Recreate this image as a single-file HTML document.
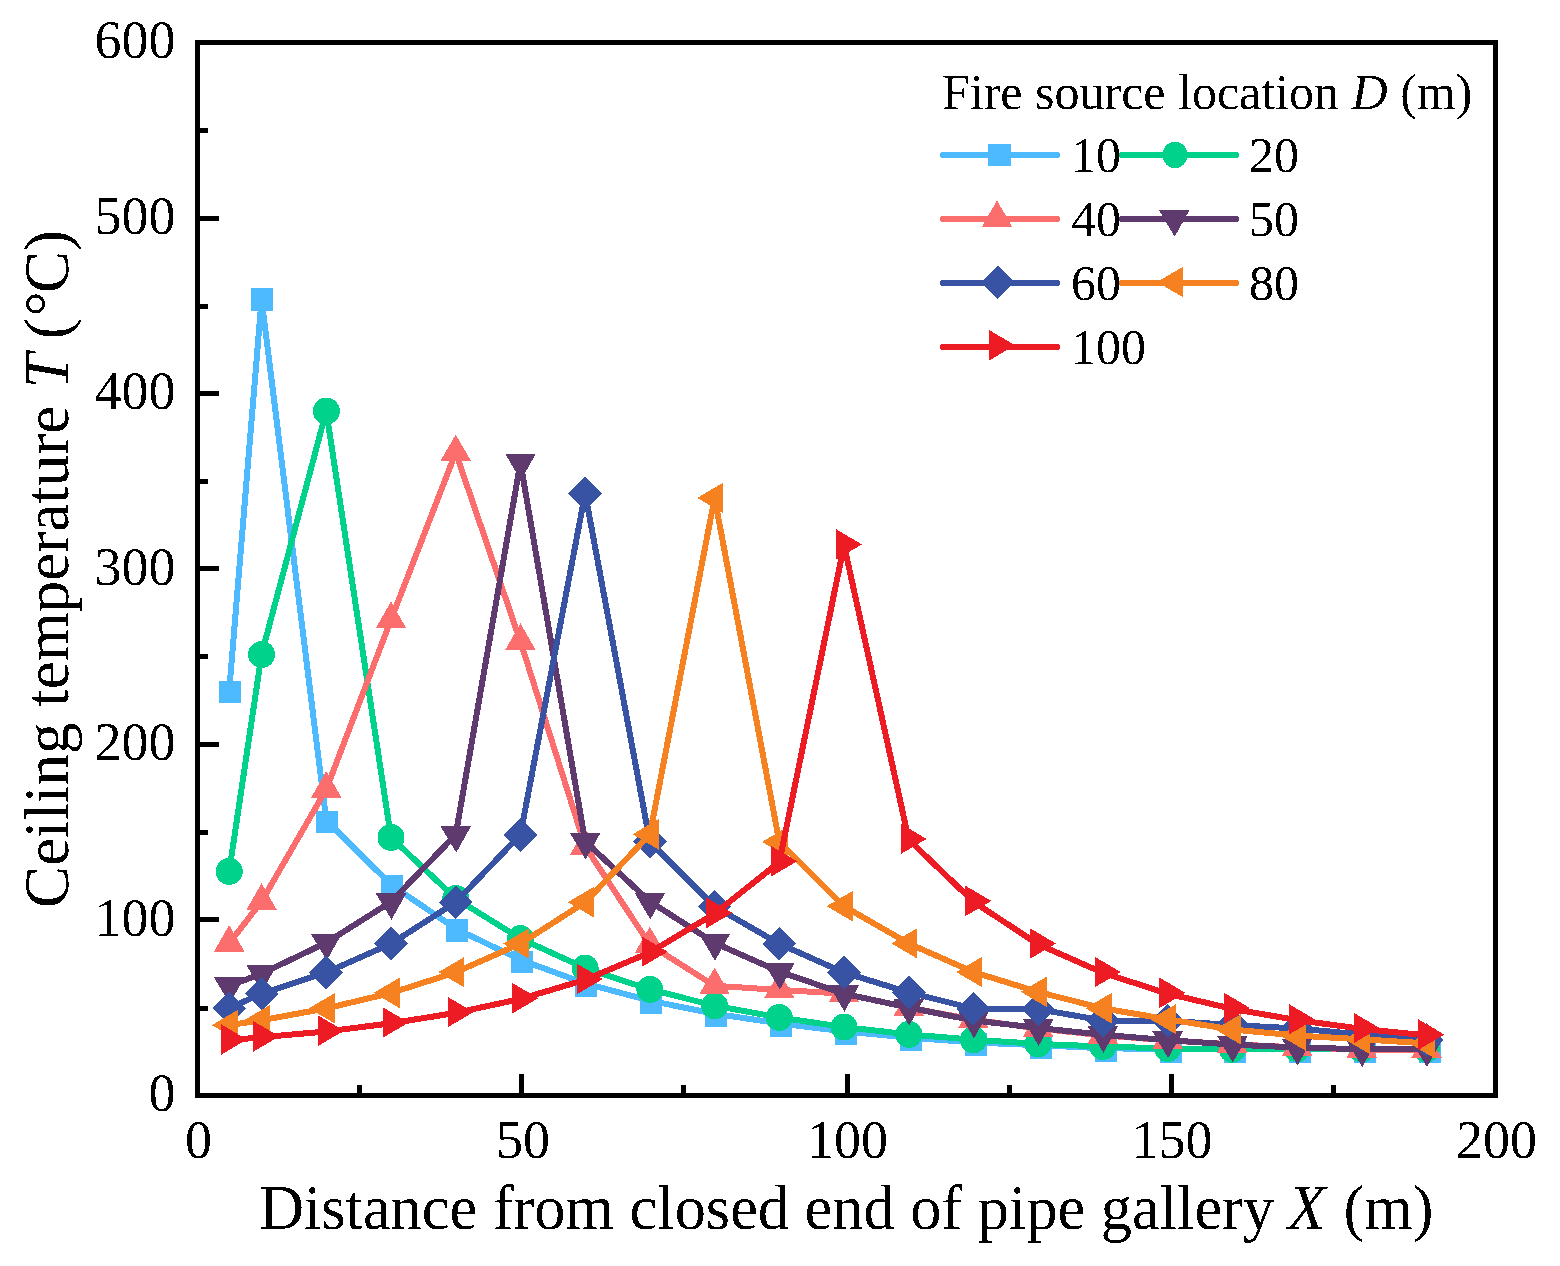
<!DOCTYPE html>
<html lang="en"><head><meta charset="utf-8"><title>Ceiling temperature vs distance</title>
<style>html,body{margin:0;padding:0;background:#fff;overflow:hidden}svg{display:block}text{font-family:"Liberation Serif",serif;fill:#000}.tk{font-size:54px}.ax{font-size:63px}.axx{font-size:62.4px}.lg{font-size:50px}.i{font-style:italic}</style></head><body>
<svg width="1560" height="1266" viewBox="0 0 1560 1266">
<rect x="0" y="0" width="1560" height="1266" fill="#fff"/>
<defs><filter id="bw" x="-5%" y="-5%" width="110%" height="110%" color-interpolation-filters="sRGB"><feComponentTransfer><feFuncA type="discrete" tableValues="0 1"/></feComponentTransfer></filter></defs>
<g shape-rendering="crispEdges"><polyline points="229.21,690.66 261.57,299.36 326.28,820.45 391,884.62 455.72,928.69 520.44,959.81 585.16,983.44 649.87,1000.69 714.59,1013.71 779.31,1023.38 844.03,1031.41 908.75,1037.54 973.47,1042.47 1038.18,1045.22 1102.9,1048.26 1167.62,1049.06 1232.34,1049.06 1297.06,1049.26 1361.78,1049.46 1426.49,1049.46" stroke="#4DB9FF" stroke-width="6.0" fill="none" stroke-linejoin="round" stroke-linecap="round"/>
<rect x="218.5" y="680.65" width="22" height="22.5" fill="#4DB9FF"/><rect x="250.95" y="288.25" width="22" height="22.5" fill="#4DB9FF"/><rect x="315.85" y="810.8" width="22" height="22.5" fill="#4DB9FF"/><rect x="380.75" y="875.15" width="22" height="22.5" fill="#4DB9FF"/><rect x="445.65" y="919.35" width="22" height="22.5" fill="#4DB9FF"/><rect x="510.55" y="950.55" width="22" height="22.5" fill="#4DB9FF"/><rect x="575.45" y="974.25" width="22" height="22.5" fill="#4DB9FF"/><rect x="640.35" y="991.55" width="22" height="22.5" fill="#4DB9FF"/><rect x="705.25" y="1004.6" width="22" height="22.5" fill="#4DB9FF"/><rect x="770.15" y="1014.3" width="22" height="22.5" fill="#4DB9FF"/><rect x="835.05" y="1022.35" width="22" height="22.5" fill="#4DB9FF"/><rect x="899.95" y="1028.5" width="22" height="22.5" fill="#4DB9FF"/><rect x="964.85" y="1033.45" width="22" height="22.5" fill="#4DB9FF"/><rect x="1029.75" y="1036.2" width="22" height="22.5" fill="#4DB9FF"/><rect x="1094.65" y="1039.25" width="22" height="22.5" fill="#4DB9FF"/><rect x="1159.55" y="1040.05" width="22" height="22.5" fill="#4DB9FF"/><rect x="1224.45" y="1040.05" width="22" height="22.5" fill="#4DB9FF"/><rect x="1289.35" y="1040.25" width="22" height="22.5" fill="#4DB9FF"/><rect x="1354.25" y="1040.45" width="22" height="22.5" fill="#4DB9FF"/><rect x="1419.15" y="1040.45" width="22" height="22.5" fill="#4DB9FF"/></g>
<g shape-rendering="crispEdges"><polyline points="229.21,871.36 261.57,654.5 326.28,411.1 391,837.46 455.72,898.5 520.44,938.6 585.16,968.1 649.87,989.4 714.59,1005.65 779.31,1017.5 844.03,1027 908.75,1034.4 973.47,1039.7 1038.18,1043.9 1102.9,1046.5 1167.62,1048.5 1232.34,1049.3 1297.06,1048.8 1361.78,1049 1426.49,1049" stroke="#00D18B" stroke-width="6.0" fill="none" stroke-linejoin="round" stroke-linecap="round"/>
<circle cx="229.21" cy="871.36" r="13.5" fill="#00D18B"/><circle cx="261.57" cy="654.5" r="13.5" fill="#00D18B"/><circle cx="326.28" cy="411.1" r="13.5" fill="#00D18B"/><circle cx="391" cy="837.46" r="13.5" fill="#00D18B"/><circle cx="455.72" cy="898.5" r="13.5" fill="#00D18B"/><circle cx="520.44" cy="938.6" r="13.5" fill="#00D18B"/><circle cx="585.16" cy="968.1" r="13.5" fill="#00D18B"/><circle cx="649.87" cy="989.4" r="13.5" fill="#00D18B"/><circle cx="714.59" cy="1005.65" r="13.5" fill="#00D18B"/><circle cx="779.31" cy="1017.5" r="13.5" fill="#00D18B"/><circle cx="844.03" cy="1027" r="13.5" fill="#00D18B"/><circle cx="908.75" cy="1034.4" r="13.5" fill="#00D18B"/><circle cx="973.47" cy="1039.7" r="13.5" fill="#00D18B"/><circle cx="1038.18" cy="1043.9" r="13.5" fill="#00D18B"/><circle cx="1102.9" cy="1046.5" r="13.5" fill="#00D18B"/><circle cx="1167.62" cy="1048.5" r="13.5" fill="#00D18B"/><circle cx="1232.34" cy="1049.3" r="13.5" fill="#00D18B"/><circle cx="1297.06" cy="1048.8" r="13.5" fill="#00D18B"/><circle cx="1361.78" cy="1049" r="13.5" fill="#00D18B"/><circle cx="1426.49" cy="1049" r="13.5" fill="#00D18B"/></g>
<g shape-rendering="crispEdges"><polyline points="229.21,943.2 261.57,901.5 326.28,789.3 391,619.77 455.72,452.6 520.44,641.5 585.16,846.4 649.87,944.8 714.59,985.8 779.31,989.9 844.03,993.7 908.75,1007.6 973.47,1019.6 1038.18,1028.55 1102.9,1035.3 1167.62,1040.4 1232.34,1044.3 1297.06,1047.4 1361.78,1049.5 1426.49,1049.5" stroke="#FC6D6D" stroke-width="6.0" fill="none" stroke-linejoin="round" stroke-linecap="round"/>
<polygon points="229.21,925.07 213.91,951.67 244.51,951.67" fill="#FC6D6D"/><polygon points="261.57,883.37 246.27,909.97 276.87,909.97" fill="#FC6D6D"/><polygon points="326.28,771.17 310.98,797.77 341.58,797.77" fill="#FC6D6D"/><polygon points="391,601.64 375.7,628.24 406.3,628.24" fill="#FC6D6D"/><polygon points="455.72,434.47 440.42,461.07 471.02,461.07" fill="#FC6D6D"/><polygon points="520.44,623.37 505.14,649.97 535.74,649.97" fill="#FC6D6D"/><polygon points="585.16,828.27 569.86,854.87 600.46,854.87" fill="#FC6D6D"/><polygon points="649.87,926.67 634.57,953.27 665.17,953.27" fill="#FC6D6D"/><polygon points="714.59,967.67 699.29,994.27 729.89,994.27" fill="#FC6D6D"/><polygon points="779.31,971.77 764.01,998.37 794.61,998.37" fill="#FC6D6D"/><polygon points="844.03,975.57 828.73,1002.17 859.33,1002.17" fill="#FC6D6D"/><polygon points="908.75,989.47 893.45,1016.07 924.05,1016.07" fill="#FC6D6D"/><polygon points="973.47,1001.47 958.17,1028.07 988.77,1028.07" fill="#FC6D6D"/><polygon points="1038.18,1010.42 1022.88,1037.02 1053.48,1037.02" fill="#FC6D6D"/><polygon points="1102.9,1017.17 1087.6,1043.77 1118.2,1043.77" fill="#FC6D6D"/><polygon points="1167.62,1022.27 1152.32,1048.87 1182.92,1048.87" fill="#FC6D6D"/><polygon points="1232.34,1026.17 1217.04,1052.77 1247.64,1052.77" fill="#FC6D6D"/><polygon points="1297.06,1029.27 1281.76,1055.87 1312.36,1055.87" fill="#FC6D6D"/><polygon points="1361.78,1031.37 1346.48,1057.97 1377.08,1057.97" fill="#FC6D6D"/><polygon points="1426.49,1031.37 1411.19,1057.97 1441.79,1057.97" fill="#FC6D6D"/></g>
<g shape-rendering="crispEdges"><polyline points="229.21,985.87 261.57,973.67 326.28,942.67 391,901.9 455.72,834.7 520.44,462.47 585.16,841.6 649.87,901.5 714.59,942.9 779.31,971.7 844.03,993.7 908.75,1007.6 973.47,1020.4 1038.18,1027.9 1102.9,1034.8 1167.62,1040.1 1232.34,1044.6 1297.06,1047.5 1361.78,1049.2 1426.49,1049.2" stroke="#5F3A6E" stroke-width="6.0" fill="none" stroke-linejoin="round" stroke-linecap="round"/>
<polygon points="229.71,1003.8 213.91,977.2 244.51,977.2" fill="#5F3A6E"/><polygon points="262.07,991.6 246.27,965 276.87,965" fill="#5F3A6E"/><polygon points="326.78,960.6 310.98,934 341.58,934" fill="#5F3A6E"/><polygon points="391.5,919.83 375.7,893.23 406.3,893.23" fill="#5F3A6E"/><polygon points="456.22,852.63 440.42,826.03 471.02,826.03" fill="#5F3A6E"/><polygon points="520.94,480.4 505.14,453.8 535.74,453.8" fill="#5F3A6E"/><polygon points="585.66,859.53 569.86,832.93 600.46,832.93" fill="#5F3A6E"/><polygon points="650.37,919.43 634.57,892.83 665.17,892.83" fill="#5F3A6E"/><polygon points="715.09,960.83 699.29,934.23 729.89,934.23" fill="#5F3A6E"/><polygon points="779.81,989.63 764.01,963.03 794.61,963.03" fill="#5F3A6E"/><polygon points="844.53,1011.63 828.73,985.03 859.33,985.03" fill="#5F3A6E"/><polygon points="909.25,1025.53 893.45,998.93 924.05,998.93" fill="#5F3A6E"/><polygon points="973.97,1038.33 958.17,1011.73 988.77,1011.73" fill="#5F3A6E"/><polygon points="1038.68,1045.83 1022.88,1019.23 1053.48,1019.23" fill="#5F3A6E"/><polygon points="1103.4,1052.73 1087.6,1026.13 1118.2,1026.13" fill="#5F3A6E"/><polygon points="1168.12,1058.03 1152.32,1031.43 1182.92,1031.43" fill="#5F3A6E"/><polygon points="1232.84,1062.53 1217.04,1035.93 1247.64,1035.93" fill="#5F3A6E"/><polygon points="1297.56,1065.43 1281.76,1038.83 1312.36,1038.83" fill="#5F3A6E"/><polygon points="1362.28,1067.13 1346.48,1040.53 1377.08,1040.53" fill="#5F3A6E"/><polygon points="1426.99,1067.13 1411.19,1040.53 1441.79,1040.53" fill="#5F3A6E"/></g>
<g shape-rendering="crispEdges"><polyline points="229.21,1008.2 261.57,993.6 326.28,972.45 391,943.8 455.72,902.25 520.44,834.7 585.16,493.46 649.87,841.6 714.59,906.5 779.31,943.8 844.03,972.6 908.75,992.4 973.47,1008.6 1038.18,1009.2 1102.9,1020.5 1167.62,1020.7 1232.34,1025 1297.06,1028.5 1361.78,1034.5 1426.49,1040" stroke="#3853A4" stroke-width="6.0" fill="none" stroke-linejoin="round" stroke-linecap="round"/>
<polygon points="229.21,991.3 246.11,1008.2 229.21,1025.1 212.31,1008.2" fill="#3853A4"/><polygon points="261.57,976.7 278.47,993.6 261.57,1010.5 244.67,993.6" fill="#3853A4"/><polygon points="326.28,955.55 343.18,972.45 326.28,989.35 309.38,972.45" fill="#3853A4"/><polygon points="391,926.9 407.9,943.8 391,960.7 374.1,943.8" fill="#3853A4"/><polygon points="455.72,885.35 472.62,902.25 455.72,919.15 438.82,902.25" fill="#3853A4"/><polygon points="520.44,817.8 537.34,834.7 520.44,851.6 503.54,834.7" fill="#3853A4"/><polygon points="585.16,476.56 602.06,493.46 585.16,510.36 568.26,493.46" fill="#3853A4"/><polygon points="649.87,824.7 666.77,841.6 649.87,858.5 632.97,841.6" fill="#3853A4"/><polygon points="714.59,889.6 731.49,906.5 714.59,923.4 697.69,906.5" fill="#3853A4"/><polygon points="779.31,926.9 796.21,943.8 779.31,960.7 762.41,943.8" fill="#3853A4"/><polygon points="844.03,955.7 860.93,972.6 844.03,989.5 827.13,972.6" fill="#3853A4"/><polygon points="908.75,975.5 925.65,992.4 908.75,1009.3 891.85,992.4" fill="#3853A4"/><polygon points="973.47,991.7 990.37,1008.6 973.47,1025.5 956.57,1008.6" fill="#3853A4"/><polygon points="1038.18,992.3 1055.08,1009.2 1038.18,1026.1 1021.28,1009.2" fill="#3853A4"/><polygon points="1102.9,1003.6 1119.8,1020.5 1102.9,1037.4 1086,1020.5" fill="#3853A4"/><polygon points="1167.62,1003.8 1184.52,1020.7 1167.62,1037.6 1150.72,1020.7" fill="#3853A4"/><polygon points="1232.34,1008.1 1249.24,1025 1232.34,1041.9 1215.44,1025" fill="#3853A4"/><polygon points="1297.06,1011.6 1313.96,1028.5 1297.06,1045.4 1280.16,1028.5" fill="#3853A4"/><polygon points="1361.78,1017.6 1378.68,1034.5 1361.78,1051.4 1344.88,1034.5" fill="#3853A4"/><polygon points="1426.49,1023.1 1443.39,1040 1426.49,1056.9 1409.59,1040" fill="#3853A4"/></g>
<g shape-rendering="crispEdges"><polyline points="229.21,1025.2 261.57,1020.2 326.28,1008.4 391,993 455.72,972.3 520.44,943.65 585.16,902.3 649.87,834.4 714.59,498 779.31,842 844.03,906.3 908.75,943.5 973.47,972.1 1038.18,992 1102.9,1008.3 1167.62,1019.3 1232.34,1029.5 1297.06,1035.6 1361.78,1039.3 1426.49,1043.4" stroke="#F68121" stroke-width="6.0" fill="none" stroke-linejoin="round" stroke-linecap="round"/>
<polygon points="211.81,1025.1 237.88,1009.8 237.88,1040.4" fill="#F68121"/><polygon points="244.17,1020.1 270.24,1004.8 270.24,1035.4" fill="#F68121"/><polygon points="308.88,1008.3 334.95,993 334.95,1023.6" fill="#F68121"/><polygon points="373.6,992.9 399.67,977.6 399.67,1008.2" fill="#F68121"/><polygon points="438.32,972.2 464.39,956.9 464.39,987.5" fill="#F68121"/><polygon points="503.04,943.55 529.11,928.25 529.11,958.85" fill="#F68121"/><polygon points="567.76,902.2 593.83,886.9 593.83,917.5" fill="#F68121"/><polygon points="632.47,834.3 658.54,819 658.54,849.6" fill="#F68121"/><polygon points="697.19,497.9 723.26,482.6 723.26,513.2" fill="#F68121"/><polygon points="761.91,841.9 787.98,826.6 787.98,857.2" fill="#F68121"/><polygon points="826.63,906.2 852.7,890.9 852.7,921.5" fill="#F68121"/><polygon points="891.35,943.4 917.42,928.1 917.42,958.7" fill="#F68121"/><polygon points="956.07,972 982.14,956.7 982.14,987.3" fill="#F68121"/><polygon points="1020.78,991.9 1046.85,976.6 1046.85,1007.2" fill="#F68121"/><polygon points="1085.5,1008.2 1111.57,992.9 1111.57,1023.5" fill="#F68121"/><polygon points="1150.22,1019.2 1176.29,1003.9 1176.29,1034.5" fill="#F68121"/><polygon points="1214.94,1029.4 1241.01,1014.1 1241.01,1044.7" fill="#F68121"/><polygon points="1279.66,1035.5 1305.73,1020.2 1305.73,1050.8" fill="#F68121"/><polygon points="1344.38,1039.2 1370.45,1023.9 1370.45,1054.5" fill="#F68121"/><polygon points="1409.09,1043.3 1435.16,1028 1435.16,1058.6" fill="#F68121"/></g>
<g shape-rendering="crispEdges"><polyline points="229.21,1040.3 261.57,1037.2 326.28,1031.5 391,1023.3 455.72,1012.9 520.44,999 585.16,979.8 649.87,952.5 714.59,913.7 779.31,862.1 844.03,545.2 908.75,839.7 973.47,901.7 1038.18,944.3 1102.9,972.8 1167.62,993.65 1232.34,1008.9 1297.06,1020.1 1361.78,1028.8 1426.49,1035.4" stroke="#ED1C24" stroke-width="6.0" fill="none" stroke-linejoin="round" stroke-linecap="round"/>
<polygon points="247.01,1039.5 221.01,1024.2 221.01,1054.8" fill="#ED1C24"/><polygon points="279.37,1036.4 253.37,1021.1 253.37,1051.7" fill="#ED1C24"/><polygon points="344.08,1030.7 318.08,1015.4 318.08,1046" fill="#ED1C24"/><polygon points="408.8,1022.5 382.8,1007.2 382.8,1037.8" fill="#ED1C24"/><polygon points="473.52,1012.1 447.52,996.8 447.52,1027.4" fill="#ED1C24"/><polygon points="538.24,998.2 512.24,982.9 512.24,1013.5" fill="#ED1C24"/><polygon points="602.96,979 576.96,963.7 576.96,994.3" fill="#ED1C24"/><polygon points="667.67,951.7 641.67,936.4 641.67,967" fill="#ED1C24"/><polygon points="732.39,912.9 706.39,897.6 706.39,928.2" fill="#ED1C24"/><polygon points="797.11,861.3 771.11,846 771.11,876.6" fill="#ED1C24"/><polygon points="861.83,544.4 835.83,529.1 835.83,559.7" fill="#ED1C24"/><polygon points="926.55,838.9 900.55,823.6 900.55,854.2" fill="#ED1C24"/><polygon points="991.27,900.9 965.27,885.6 965.27,916.2" fill="#ED1C24"/><polygon points="1055.98,943.5 1029.98,928.2 1029.98,958.8" fill="#ED1C24"/><polygon points="1120.7,972 1094.7,956.7 1094.7,987.3" fill="#ED1C24"/><polygon points="1185.42,992.85 1159.42,977.55 1159.42,1008.15" fill="#ED1C24"/><polygon points="1250.14,1008.1 1224.14,992.8 1224.14,1023.4" fill="#ED1C24"/><polygon points="1314.86,1019.3 1288.86,1004 1288.86,1034.6" fill="#ED1C24"/><polygon points="1379.58,1028 1353.58,1012.7 1353.58,1043.3" fill="#ED1C24"/><polygon points="1444.29,1034.6 1418.29,1019.3 1418.29,1049.9" fill="#ED1C24"/></g>
<g stroke="#000" stroke-width="5" fill="none" shape-rendering="crispEdges">
<line x1="197.5" y1="1095.5" x2="219" y2="1095.5"/>
<line x1="197.5" y1="1008.5" x2="208" y2="1008.5"/>
<line x1="197.5" y1="919.5" x2="219" y2="919.5"/>
<line x1="197.5" y1="832.5" x2="208" y2="832.5"/>
<line x1="197.5" y1="744.5" x2="219" y2="744.5"/>
<line x1="197.5" y1="656.5" x2="208" y2="656.5"/>
<line x1="197.5" y1="568.5" x2="219" y2="568.5"/>
<line x1="197.5" y1="481.5" x2="208" y2="481.5"/>
<line x1="197.5" y1="393.5" x2="219" y2="393.5"/>
<line x1="197.5" y1="306.5" x2="208" y2="306.5"/>
<line x1="197.5" y1="218.5" x2="219" y2="218.5"/>
<line x1="197.5" y1="130.5" x2="208" y2="130.5"/>
<line x1="197.5" y1="42.5" x2="219" y2="42.5"/>
<line x1="197.5" y1="1095.5" x2="197.5" y2="1074"/>
<line x1="359.5" y1="1095.5" x2="359.5" y2="1085"/>
<line x1="521.5" y1="1095.5" x2="521.5" y2="1074"/>
<line x1="683.5" y1="1095.5" x2="683.5" y2="1085"/>
<line x1="847.5" y1="1095.5" x2="847.5" y2="1074"/>
<line x1="1009.5" y1="1095.5" x2="1009.5" y2="1085"/>
<line x1="1171.5" y1="1095.5" x2="1171.5" y2="1074"/>
<line x1="1333.5" y1="1095.5" x2="1333.5" y2="1085"/>
<line x1="1495.5" y1="1095.5" x2="1495.5" y2="1074"/>
<rect x="197.5" y="42.5" width="1298" height="1053"/>
</g>
<g filter="url(#bw)">
<g class="tk">
<text x="175.4" y="1111.3" text-anchor="end">0</text>
<text x="175.4" y="935.8" text-anchor="end">100</text>
<text x="175.4" y="760.3" text-anchor="end">200</text>
<text x="175.4" y="584.8" text-anchor="end">300</text>
<text x="175.4" y="409.3" text-anchor="end">400</text>
<text x="175.4" y="233.8" text-anchor="end">500</text>
<text x="175.4" y="58.3" text-anchor="end">600</text>
<text x="198.5" y="1158.3" text-anchor="middle">0</text>
<text x="523" y="1158.3" text-anchor="middle">50</text>
<text x="847.5" y="1158.3" text-anchor="middle">100</text>
<text x="1172" y="1158.3" text-anchor="middle">150</text>
<text x="1496.5" y="1158.3" text-anchor="middle">200</text>
</g>
<text class="axx" x="846.2" y="1229" text-anchor="middle">Distance from closed end of pipe gallery <tspan class="i" dx="-2">X</tspan><tspan dx="2"> (m)</tspan></text>
<text class="ax" transform="translate(68.2,569) rotate(-90)" text-anchor="middle">Ceiling temperature <tspan class="i" dx="1.5">T</tspan><tspan dx="-1.5"> (</tspan><tspan dx="1.8">°</tspan><tspan dx="-1.8">C)</tspan></text>
<text class="lg" x="942" y="108.7">Fire source location <tspan class="i">D</tspan> (m)</text>
<line x1="943" y1="155" x2="1057" y2="155" stroke="#4DB9FF" stroke-width="6" stroke-linecap="round"/>
<rect x="988.1" y="144" width="22.9" height="21.8" fill="#4DB9FF"/>
<line x1="1122" y1="155" x2="1236" y2="155" stroke="#00D18B" stroke-width="6" stroke-linecap="round"/>
<ellipse cx="1175" cy="154.9" rx="12.4" ry="13.2" fill="#00D18B"/>
<line x1="943" y1="219" x2="1057" y2="219" stroke="#FC6D6D" stroke-width="6" stroke-linecap="round"/>
<polygon points="997,200.47 981.7,227.07 1012.3,227.07" fill="#FC6D6D"/>
<line x1="1122" y1="219" x2="1236" y2="219" stroke="#5F3A6E" stroke-width="6" stroke-linecap="round"/>
<polygon points="1174.7,236.63 1158.9,210.03 1189.5,210.03" fill="#5F3A6E"/>
<line x1="943" y1="283" x2="1057" y2="283" stroke="#3853A4" stroke-width="6" stroke-linecap="round"/>
<polygon points="997.6,265.5 1014.5,282.4 997.6,299.3 980.7,282.4" fill="#3853A4"/>
<line x1="1122" y1="283" x2="1236" y2="283" stroke="#F68121" stroke-width="6" stroke-linecap="round"/>
<polygon points="1156.9,282 1182.97,266.7 1182.97,297.3" fill="#F68121"/>
<line x1="943" y1="347" x2="1057" y2="347" stroke="#ED1C24" stroke-width="6" stroke-linecap="round"/>
<polygon points="1015.1,345.2 989.1,329.9 989.1,360.5" fill="#ED1C24"/>
<text class="lg" x="1071" y="171.7">10</text>
<text class="lg" x="1249" y="171.7">20</text>
<text class="lg" x="1071" y="235.7">40</text>
<text class="lg" x="1249" y="235.7">50</text>
<text class="lg" x="1071" y="299.7">60</text>
<text class="lg" x="1249" y="299.7">80</text>
<text class="lg" x="1071" y="363.7">100</text>
</g>
</svg></body></html>
